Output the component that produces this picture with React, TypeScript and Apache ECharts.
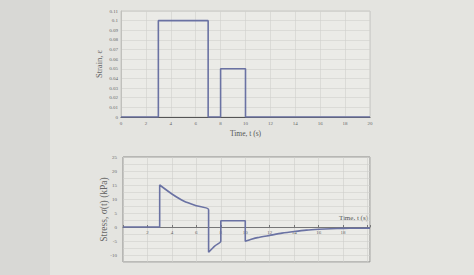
import React, { useEffect, useRef } from "react";
import * as echarts from "echarts";

const strainT = [0, 3, 3, 7, 7, 8, 8, 10, 10, 20];
const strainV = [0, 0, 0.1, 0.1, 0, 0, 0.05, 0.05, 0, 0];

const stressT = [0, 3, 3, 4, 5, 6, 7, 7, 7.5, 8, 8, 10, 10, 10.5, 11, 12, 13, 14, 15, 16, 17, 18, 19, 20.2];
const stressV = [0, 0, 15, 11.8, 9.2, 7.6, 6.2, -9, -6.8, -5.1, 2.25, 2.25, -5.1, -4.4, -3.8, -3.0, -2.2, -1.6, -1.1, -0.8, -0.6, -0.5, -0.45, -0.4];

const FONT = "Liberation Serif";
const LINE = "#6a72a3";

export default function App() {
  const ref = useRef<HTMLDivElement>(null);
  useEffect(() => {
    const chart = echarts.init(ref.current!, null, { renderer: "svg" });
    const label = { fontFamily: FONT, fontSize: 5, color: "#666" };
    chart.setOption({
      animation: false,
      backgroundColor: "transparent",
      grid: [
        { left: 121, top: 11, width: 249, height: 106, show: true, borderColor: "#c8c8c4", borderWidth: 1, backgroundColor: "#ebebe7" },
        { left: 123, top: 157, width: 247, height: 105, show: true, borderColor: "#8a8a88", borderWidth: 1, backgroundColor: "#ebebe7" },
      ],
      xAxis: [
        {
          type: "value", gridIndex: 0, min: 0, max: 20, interval: 2,
          axisLine: { lineStyle: { color: "#555", width: 1.2 } },
          axisTick: { show: false },
          axisLabel: { ...label, margin: 4 },
          splitLine: { lineStyle: { color: "#d0d0cc", width: 0.6 } },
          name: "Time, t (s)", nameLocation: "middle", nameGap: 12,
          nameTextStyle: { fontFamily: FONT, fontSize: 7.5, color: "#555" },
        },
        {
          type: "value", gridIndex: 1, min: 0, max: 20.2, interval: 2,
          position: "bottom", offset: -35,
          axisLine: { onZero: false, lineStyle: { color: "#777", width: 1 } },
          axisTick: { show: true, length: 2, inside: true, lineStyle: { color: "#777" } },
          axisLabel: { ...label, margin: 3, formatter: (v: number) => (v > 0 && v < 19 ? String(v) : "") },
          splitLine: { lineStyle: { color: "#cfcfcb", width: 0.6 } },
        },
      ],
      yAxis: [
        {
          type: "value", gridIndex: 0, min: 0, max: 0.11, interval: 0.01,
          axisLine: { show: true, lineStyle: { color: "#c0c0bc" } },
          axisTick: { show: false },
          axisLabel: { ...label, margin: 3, formatter: (v: number) => String(Math.round(v * 100) / 100) },
          splitLine: { lineStyle: { color: "#d0d0cc", width: 0.6 } },
          name: "Strain, ε", nameLocation: "middle", nameGap: 18, nameMoveOverlap: false,
          nameTextStyle: { fontFamily: FONT, fontSize: 8.5, color: "#666" },
        },
        {
          type: "value", gridIndex: 1, min: -12.5, max: 25, interval: 2.5,
          axisLine: { show: false },
          axisTick: { show: false },
          axisLabel: { ...label, margin: 6, formatter: (v: number) => (v % 5 === 0 ? String(v) : "") },
          splitLine: { lineStyle: { color: "#d0d0cc", width: 0.6 } },
          name: "Stress, σ(t) (kPa)", nameLocation: "middle", nameGap: 14, nameMoveOverlap: false,
          nameTextStyle: { fontFamily: FONT, fontSize: 9.5, color: "#666" },
        },
      ],
      series: [
        {
          type: "line", xAxisIndex: 0, yAxisIndex: 0, showSymbol: false,
          data: strainT.map((t, i) => [t, strainV[i]]),
          lineStyle: { color: LINE, width: 1.6 },
        },
        {
          type: "line", xAxisIndex: 1, yAxisIndex: 1, showSymbol: false, smooth: 0.2,
          data: stressT.map((t, i) => [t, stressV[i]]),
          lineStyle: { color: LINE, width: 1.6 },
        },
      ],
      graphic: [
        { type: "text", right: 106, top: 214, style: { text: "Time, t (s)", fontFamily: FONT, fontSize: 7, fill: "#555" } },
      ],
    });
    return () => chart.dispose();
  }, []);
  return (
    <div style={{ position: "fixed", left: 0, top: 0, width: 474, height: 275, background: "#e4e4e0" }}>
      <div style={{ position: "absolute", left: 0, top: 0, width: 50, height: 275, background: "#d8d8d5" }} />
      <div ref={ref} style={{ position: "absolute", left: 0, top: 0, width: 474, height: 275 }} />
    </div>
  );
}
